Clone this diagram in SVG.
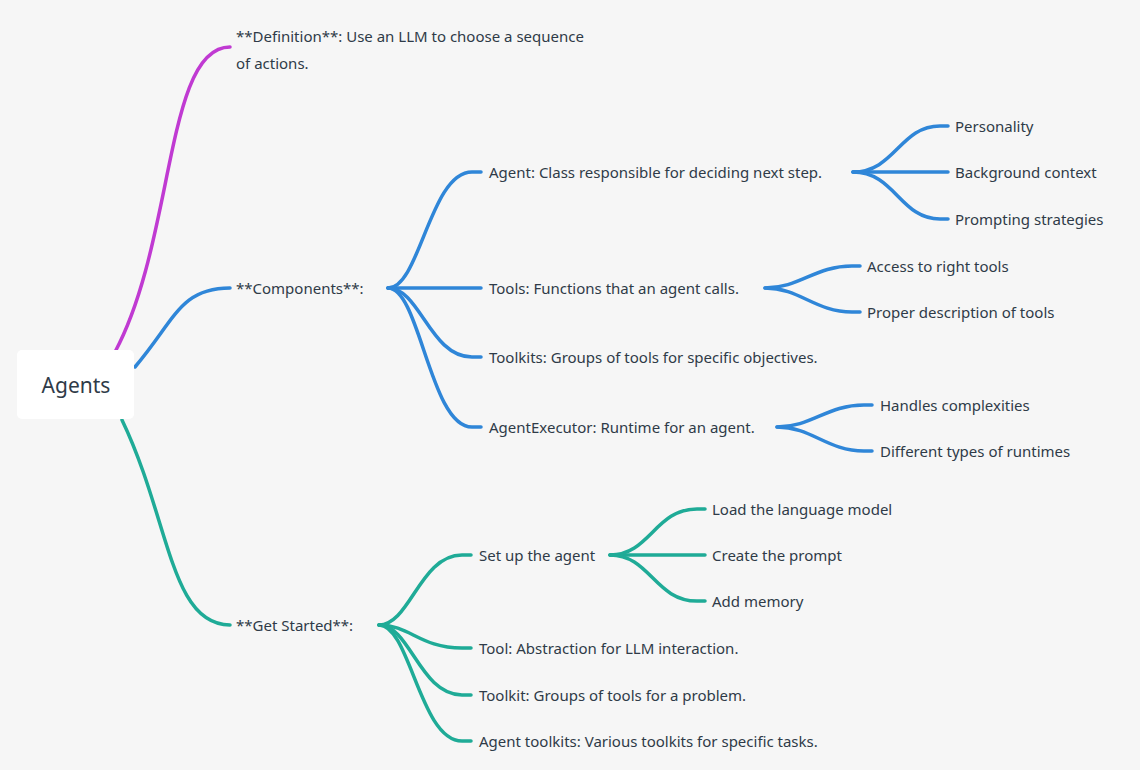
<svg xmlns="http://www.w3.org/2000/svg" width="1140" height="770" viewBox="0 0 1140 770">
<style>
text{font-family:"Noto Sans","DejaVu Sans",sans-serif;font-size:15px;fill:#2f3b48}
.c{fill:none;stroke-width:3.5;stroke-linecap:round}
.p{stroke:#c03ad2}.b{stroke:#2f86d8}.t{stroke:#1fab97}
</style>
<rect width="1140" height="770" fill="#f6f6f6"/>
<g id="connectors">
<path class="c p" d="M115 352 C175 240,165 47,230 47"/>
<path class="c b" d="M135 367 C175 320,180 288,230 288"/>
<path class="c t" d="M122 420 C170 520,170 625,230 625"/>
<g class="b">
<path class="c" d="M388 288 H481"/>
<path class="c" d="M388 288 C420 288,430 172,472 172 H481"/>
<path class="c" d="M388 288 C420 288,430 357,472 357 H481"/>
<path class="c" d="M388 288 C420 288,430 427,472 427 H481"/>
<path class="c" d="M853 172 H948"/>
<path class="c" d="M853 172 C895 172,900 126,940 126 H948"/>
<path class="c" d="M853 172 C895 172,900 219,940 219 H948"/>
<path class="c" d="M765 288 C800 288,815 266,852 266 H860"/>
<path class="c" d="M765 288 C800 288,815 312,852 312 H860"/>
<path class="c" d="M777 427 C812 427,827 405,864 405 H872"/>
<path class="c" d="M777 427 C812 427,827 451,864 451 H872"/>
</g>
<g class="t">
<path class="c" d="M379 625 C410 625,420 555,462 555 H471"/>
<path class="c" d="M379 625 C410 625,420 648,462 648 H471"/>
<path class="c" d="M379 625 C410 625,420 695,462 695 H471"/>
<path class="c" d="M379 625 C410 625,420 741,462 741 H471"/>
<path class="c" d="M610 555 H705"/>
<path class="c" d="M610 555 C650 555,655 509,697 509 H705"/>
<path class="c" d="M610 555 C650 555,655 601,697 601 H705"/>
</g>
</g>
<g id="root"><rect x="17" y="350" width="117" height="69" rx="5" fill="#fff"/><text x="76" y="393" text-anchor="middle" style="font-size:21px">Agents</text></g>
<g id="def"><text x="236" y="42">**Definition**: Use an LLM to choose a sequence</text><text x="236" y="69">of actions.</text></g>
<g id="comp"><text x="236" y="294">**Components**:</text></g>
<g id="gs"><text x="236" y="631">**Get Started**:</text></g>
<g id="c1"><text x="489" y="178">Agent: Class responsible for deciding next step.</text></g>
<g id="c2"><text x="489" y="294">Tools: Functions that an agent calls.</text></g>
<g id="c3"><text x="489" y="363">Toolkits: Groups of tools for specific objectives.</text></g>
<g id="c4"><text x="489" y="433">AgentExecutor: Runtime for an agent.</text></g>
<g id="a1"><text x="955" y="132">Personality</text></g>
<g id="a2"><text x="955" y="178">Background context</text></g>
<g id="a3"><text x="955" y="225">Prompting strategies</text></g>
<g id="t1"><text x="867" y="272">Access to right tools</text></g>
<g id="t2"><text x="867" y="318">Proper description of tools</text></g>
<g id="e1"><text x="880" y="411">Handles complexities</text></g>
<g id="e2"><text x="880" y="457">Different types of runtimes</text></g>
<g id="g1"><text x="479" y="561">Set up the agent</text></g>
<g id="g2"><text x="479" y="654">Tool: Abstraction for LLM interaction.</text></g>
<g id="g3"><text x="479" y="701">Toolkit: Groups of tools for a problem.</text></g>
<g id="g4"><text x="479" y="747">Agent toolkits: Various toolkits for specific tasks.</text></g>
<g id="s1"><text x="712" y="515">Load the language model</text></g>
<g id="s2"><text x="712" y="561">Create the prompt</text></g>
<g id="s3"><text x="712" y="607">Add memory</text></g>
</svg>
